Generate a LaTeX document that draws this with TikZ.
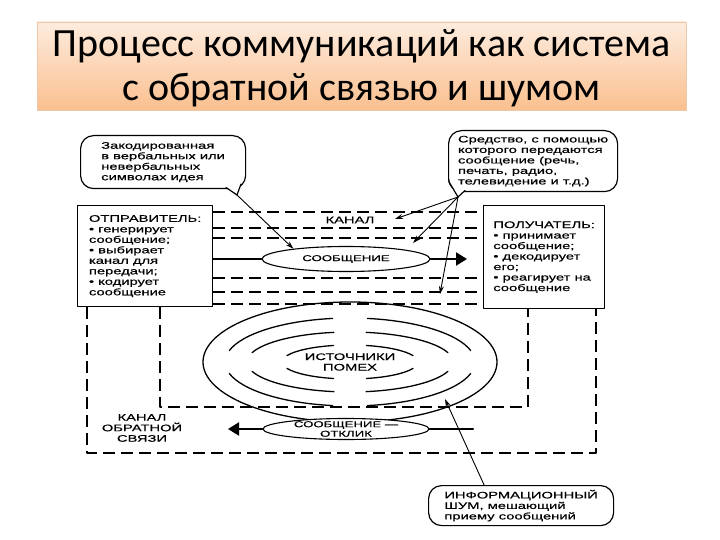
\documentclass[tikz,border=0pt]{standalone}
\usepackage{fontspec}
\setmainfont{Carlito}
\newfontfamily\schemefont[FakeStretch=1.55,FakeBold=0.5]{Liberation Sans}
\usetikzlibrary{arrows.meta,shapes.geometric}
\definecolor{titletop}{RGB}{253,236,222}
\definecolor{titlebot}{RGB}{250,192,143}
\definecolor{titleline}{RGB}{238,198,168}

\begin{document}
\begin{tikzpicture}[x=1pt,y=-1pt,>=Stealth,line join=round,line cap=round,
	font=\schemefont\fontsize{9.5}{10.5}\selectfont,
	box/.style={draw,line width=1.3pt,anchor=north west,align=left,inner sep=0pt},
	bubble/.style={draw,fill=white,line width=1.2pt,rounded corners=13pt,anchor=north west,align=left,inner sep=0pt},
	oval/.style={ellipse,draw,line width=1.1pt,inner xsep=0pt,inner ysep=-3pt,align=center,font=\schemefont\fontsize{8.5}{9.5}\selectfont},
	channel/.style={line width=1.3pt,line cap=butt,dash pattern=on 12pt off 6pt},
	bigarrow/.style={line width=2.2pt,-{Triangle[length=11pt,width=13pt]}},
	pointer/.style={line width=0.9pt,-{Stealth[length=8pt,width=5pt]}}]
	
	\useasboundingbox (0,0) rectangle (720,540);
	% заголовок
	\shade[top color=titletop,bottom color=titlebot,draw=titleline] (37,22) rectangle (686,110);
	\node[font=\fontsize{40}{44}\selectfont,align=center] (title) at (361.5,68) {Процесс коммуникаций как система\\с обратной связью и шумом};
	
	\def\cx{350} \def\cy{362} % центр помех
	
	% каналы
	\node[box,minimum width=135pt,minimum height=101pt] (sender) at (77,205) {ОТПРАВИТЕЛЬ:\\• генерирует\\сообщение;\\• выбирает\\канал для\\передачи;\\• кодирует\\сообщение};
	\node[box,minimum width=121pt,minimum height=103pt] (receiver) at (483,205) {ПОЛУЧАТЕЛЬ:\\• принимает\\сообщение;\\• декодирует\\его;\\• реагирует на\\сообщение};
	\foreach \y in {212,228,238,278,292,304}
	\draw[channel] (sender.east |- 0,\y) -- (receiver.west |- 0,\y);
	\draw[channel] (sender.south -| 160,0) -- (160,407) -- (528,407) -- (receiver.south -| 528,0);
	\draw[channel] (sender.south -| 87,0) -- (87,453) -- (596,453) -- (receiver.south -| 596,0);
	\node (channel) at (350,220) {КАНАЛ};
	
	% источники помех
	\draw[line width=1.3pt] (\cx,\cy) ellipse[x radius=147,y radius=60];
	\foreach \rx/\ry/\a/\b in {125/44/15/82,103/30/18/81,68/17/22/76}
	\foreach \s in {0,180}{
		\draw[line width=1.3pt] ([shift={(\s+\a:{\rx} and {\ry})}]\cx,\cy) arc[start angle=\s+\a,end angle=\s+\b,x radius=\rx,y radius=\ry];
		\draw[line width=1.3pt] ([shift={(\s-\a:{\rx} and {\ry})}]\cx,\cy) arc[start angle=\s-\a,end angle=\s-\b,x radius=\rx,y radius=\ry];
	}
	\node[align=center] (source) at (\cx,\cy) {ИСТОЧНИКИ\\ПОМЕХ};
	
	% сообщения
	\node[oval,fill=white,minimum width=168pt,minimum height=25pt] (msg) at (346,259) {СООБЩЕНИЕ};
	\coordinate (msgend) at (467,259);
	\draw[line width=2.2pt] (sender.east |- msg) -- (msg.west);
	\draw[bigarrow] (msg.east) -- (msgend);
	\node[oval,fill=white,minimum width=166pt,minimum height=21pt] (reply) at (346,429) {СООБЩЕНИЕ —\\ОТКЛИК};
	\coordinate (replystart) at (473,429);
	\coordinate (replyend) at (228,429);
	\draw[line width=2.2pt] (replystart) -- (reply.east);
	\draw[bigarrow] (reply.west) -- (replyend);
	\node[align=center] (feedback) at (142,428) {КАНАЛ\\ОБРАТНОЙ\\СВЯЗИ};
	
	% выноски
	\node[bubble,minimum width=165pt,minimum height=53pt] (coded) at (80,135) {Закодированная\\в вербальных или\\невербальных\\символах идея};
	\coordinate (codedtip) at (237,195);
	\filldraw[fill=white,line width=1.2pt] (226,187.5) -- (codedtip) -- (241,184);
	\node[bubble,minimum width=169pt,minimum height=61pt] (medium) at (448,130) {Средство, с помощью\\которого передаются\\сообщение (речь,\\печать, радио,\\телевидение и т.д.)};
	\coordinate (mediumtip) at (458,197);
	\filldraw[fill=white,line width=1.2pt] (448.5,181) -- (mediumtip) -- (465,190.5);
	\node[bubble,minimum width=185pt,minimum height=40pt] (noise) at (428,485) {ИНФОРМАЦИОННЫЙ\\ШУМ, мешающий\\приему сообщений};
	
	\coordinate (chantip) at (395,219);
	\coordinate (linetip) at (413,243);
	\coordinate (lowtip) at (440,294);
	\coordinate (ringtip) at (445,399);
	\draw[pointer] (codedtip) -- (msg.169);
	\foreach \t in {chantip,linetip,lowtip}
	\draw[pointer] (mediumtip) -- (\t);
	\draw[pointer] ([xshift=-37pt]noise.north) -- (ringtip);
\end{tikzpicture}
\end{document}
